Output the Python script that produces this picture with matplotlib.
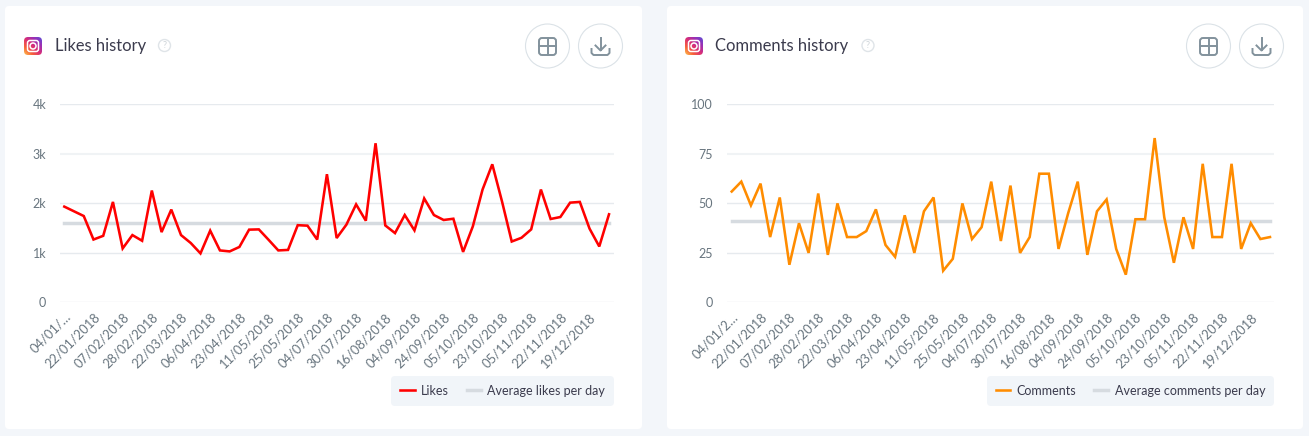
import numpy as np
import matplotlib
matplotlib.use("Agg")
import matplotlib.pyplot as plt
from matplotlib.patches import FancyBboxPatch, Circle
from matplotlib.colors import LinearSegmentedColormap
from matplotlib.transforms import IdentityTransform

plt.rcParams['font.family'] = ['Lato', 'DejaVu Sans']

W, H = 1309, 436

date_labels = ['04/01/…', '22/01/2018', '07/02/2018', '28/02/2018', '22/03/2018', '06/04/2018',
               '23/04/2018', '11/05/2018', '25/05/2018', '04/07/2018', '30/07/2018', '16/08/2018',
               '04/09/2018', '24/09/2018', '05/10/2018', '23/10/2018', '05/11/2018', '22/11/2018',
               '19/12/2018']
date_labels_c = ['04/01/2…'] + date_labels[1:]

likes = [1935, 1840, 1745, 1270, 1345, 2030, 1090, 1360, 1245, 2260,
         1420, 1875, 1360, 1200, 990, 1450, 1050, 1030, 1120, 1470,
         1475, 1265, 1050, 1060, 1560, 1550, 1270, 2590, 1300,
         1570, 1980, 1650, 3215, 1555, 1400, 1765, 1455, 2100, 1765,
         1665, 1690, 1020, 1535, 2280, 2790, 2040, 1230, 1305, 1475,
         2280, 1685, 1725, 2015, 2030, 1490, 1130, 1780]
likes_avg = 1600

comments = [56, 61, 49, 60, 33, 53, 19, 40, 25, 55, 24, 50, 33, 33, 36, 47, 29, 23, 44, 25,
            46, 53, 16, 22, 50, 32, 38, 61, 31, 59, 25, 33, 65, 65, 27, 45, 61, 24, 46,
            52, 27, 14, 42, 42, 83, 43, 20, 43, 27, 70, 33, 33, 70, 27, 40, 32, 33]
comments_avg = 41

likes_ticks = [0, 1000, 2000, 3000, 4000]
likes_ticklabels = ['0', '1k', '2k', '3k', '4k']
comments_ticks = [0, 25, 50, 75, 100]

GRID = '#e6eaee'
TICK = '#68757f'
TITLE = '#3b3b4d'
BTN = '#dbe2e7'
ICON = '#82929c'

fig = plt.figure(figsize=(W / 100, H / 100), dpi=100, facecolor='#f3f6fa')

# page layer in pixel coordinates
bg = fig.add_axes([0, 0, 1, 1])
bg.set_xlim(0, W)
bg.set_ylim(H, 0)
bg.axis('off')

insta = LinearSegmentedColormap.from_list('insta', ['#fdc04e', '#f7603a', '#d92d77', '#9b2fb5', '#5b4fd6'])


def header(x0, x1, title, ix, title_x, help_x, btn1, btn2):
    card = FancyBboxPatch((x0 + 4, 10), x1 - x0 - 8, 415, boxstyle='round,pad=4,rounding_size=4',
                          fc='white', ec='none')
    bg.add_patch(card)

    # instagram icon
    grad = np.add.outer(np.linspace(1, 0, 40), np.linspace(0, 1, 40))
    im = bg.imshow(grad, cmap=insta, extent=(ix, ix + 18, 55, 37), aspect='auto', zorder=3)
    clip = FancyBboxPatch((ix + 3, 40), 12, 12, boxstyle='round,pad=3,rounding_size=4', fc='none', ec='none',
                          transform=bg.transData)
    bg.add_patch(clip)
    im.set_clip_path(clip)
    bg.add_patch(FancyBboxPatch((ix + 5, 42), 8, 8, boxstyle='round,pad=1.5,rounding_size=2.5', fc='none',
                                ec='white', lw=1.1, zorder=4))
    bg.add_patch(Circle((ix + 9, 46), 3, fc='none', ec='white', lw=1.1, zorder=4))

    bg.text(title_x, 46.5, title, fontsize=11.9, color=TITLE, va='center', ha='left')

    # help icon
    bg.add_patch(Circle((help_x, 45.5), 6, fc='none', ec='#dfe4e8', lw=1))
    bg.text(help_x, 45.5, '?', fontsize=6.5, color='#ccd3d8', ha='center', va='center')

    # buttons
    for cx in (btn1, btn2):
        bg.add_patch(Circle((cx, 46), 22, fc='white', ec=BTN, lw=0.8))
    bg.add_patch(FancyBboxPatch((btn1 - 6.5, 40), 13, 13, boxstyle='round,pad=2,rounding_size=3', fc='none',
                                ec=ICON, lw=1.4))
    bg.plot([btn1 - 8.5, btn1 + 8.5], [46.5, 46.5], color=ICON, lw=1.4)
    bg.plot([btn1, btn1], [38, 55], color=ICON, lw=1.4)
    bg.plot([btn2, btn2], [38, 50], color=ICON, lw=1.4)
    bg.plot([btn2 - 5, btn2, btn2 + 5], [45.5, 50.5, 45.5], color=ICON, lw=1.4)
    bg.plot([btn2 - 9, btn2 - 9, btn2 - 7, btn2 + 7, btn2 + 9, btn2 + 9],
            [49, 53, 55, 55, 53, 49], color=ICON, lw=1.4)


def chart(left, right, first, last, values, avg, ticks, ticklabels, ymax, labels, color, name, avg_name,
          legend_right):
    top, bottom = 104.4, 302.4
    ax = fig.add_axes([left / W, 1 - bottom / H, (right - left) / W, (bottom - top) / H])
    step = (last - first) / (len(values) - 1)
    ax.set_xlim((left - first) / step, (right - first) / step)
    ax.set_ylim(0, ymax)
    ax.patch.set_alpha(0)
    for s in ax.spines.values():
        s.set_visible(False)
    x = np.arange(len(values))
    ax.set_yticks(ticks)
    ax.set_yticklabels(ticklabels)
    ax.set_xticks(x[::3][:len(labels)])
    ax.set_xticklabels(labels, rotation=45, ha='right', va='top', rotation_mode='anchor')
    ax.tick_params(axis='both', length=0, labelsize=9, labelcolor=TICK)
    ax.tick_params(axis='y', pad=10)
    ax.tick_params(axis='x', pad=6, labelsize=9.3)
    ax.grid(axis='y', color=GRID, lw=1)
    ax.get_ygridlines()[3].set(color='#f0f3f5', lw=1.5)
    ax.set_axisbelow(True)
    l1, = ax.plot(x, values, color=color, lw=1.85, label=name, clip_on=False, solid_joinstyle='miter', zorder=3)
    l2, = ax.plot(x, [avg] * len(x), color='#d6dbe0', lw=2.5, label=avg_name, zorder=2)
    leg = ax.legend(handles=[l1, l2], ncol=2, loc='upper right', bbox_to_anchor=(legend_right, H - 376),
                    bbox_transform=IdentityTransform(), frameon=True, fontsize=9, facecolor='#f1f5f9',
                    edgecolor='none', framealpha=1, fancybox=True, borderaxespad=0, borderpad=0.7,
                    handlelength=1.15, handletextpad=0.5, columnspacing=1.45, labelcolor=TITLE)
    leg.get_frame().set_boxstyle('round', pad=0, rounding_size=0.3)
    return ax


header(5, 642, 'Likes history', 24, 55, 164.5, 547.5, 600.5)
header(667, 1303, 'Comments history', 685, 715, 868, 1208.5, 1261.5)

chart(60, 614, 64.3, 609, likes, likes_avg, likes_ticks, likes_ticklabels, 4000, date_labels,
      '#ff0000', 'Likes', 'Average likes per day', 614)
chart(727, 1274, 731.7, 1270, comments, comments_avg, comments_ticks, [str(t) for t in comments_ticks], 100,
      date_labels_c, '#ff8c00', 'Comments', 'Average comments per day', 1274)

fig.savefig('out.png', dpi=100, facecolor=fig.get_facecolor())
